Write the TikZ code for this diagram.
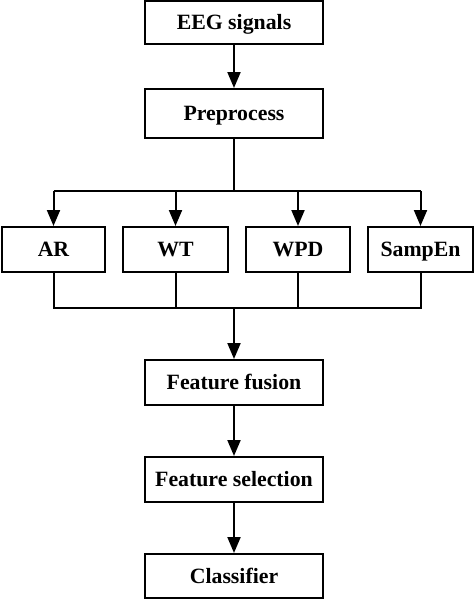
\documentclass[tikz,border=0pt]{standalone}
\usepackage{fontspec}
\setmainfont{Liberation Serif}
\usetikzlibrary{arrows.meta}
\begin{document}
\begin{tikzpicture}[x=0.5pt,y=-0.5pt,
  box/.style={draw=black,line width=1pt,fill=white,rectangle,inner sep=0pt,
    text height=7.2pt,text depth=0pt,
    font=\fontsize{10.9pt}{12pt}\selectfont\bfseries},
  conn/.style={line width=1pt,draw=black},
  arr/.style={conn,-{Triangle[length=8pt,width=6.5pt]}}]
\useasboundingbox (0,0) rectangle (474,600);
\node[box,minimum width=89pt,minimum height=21.5pt] (eeg) at (234,22.5) {EEG signals};
\node[box,minimum width=89pt,minimum height=24.5pt] (pre) at (234,113.5) {Preprocess};
\node[box,minimum width=51.5pt,minimum height=22.5pt] (ar) at (53.5,249.5) {AR};
\node[box,minimum width=52.5pt,minimum height=22.5pt] (wt) at (175.5,249.5) {WT};
\node[box,minimum width=52pt,minimum height=22.5pt] (wpd) at (298,249.5) {WPD};
\node[box,minimum width=52.5pt,minimum height=22.5pt] (samp) at (420.5,249.5) {SampEn};
\node[box,minimum width=89pt,minimum height=22.5pt] (ff) at (234,382.5) {Feature fusion};
\node[box,minimum width=89pt,minimum height=22.5pt] (fs) at (234,479.5) {Feature selection};
\node[box,minimum width=89pt,minimum height=22pt] (cl) at (234,576) {Classifier};
\coordinate (busT) at (234,191);
\coordinate (busB) at (234,308);
\draw[arr] (eeg) -- (pre);
\draw[conn] (pre) -- (busT);
\draw[conn] (ar |- busT) -- (samp |- busT);
\draw[arr] (ar |- busT) -- (ar);
\draw[arr] (wt |- busT) -- (wt);
\draw[arr] (wpd |- busT) -- (wpd);
\draw[arr] (samp |- busT) -- (samp);
\draw[conn] (ar) -- (ar |- busB) -- (samp |- busB) -- (samp);
\draw[conn] (wt) -- (wt |- busB);
\draw[conn] (wpd) -- (wpd |- busB);
\draw[arr] (busB) -- (ff);
\draw[arr] (ff) -- (fs);
\draw[arr] (fs) -- (cl);
\end{tikzpicture}
\end{document}
